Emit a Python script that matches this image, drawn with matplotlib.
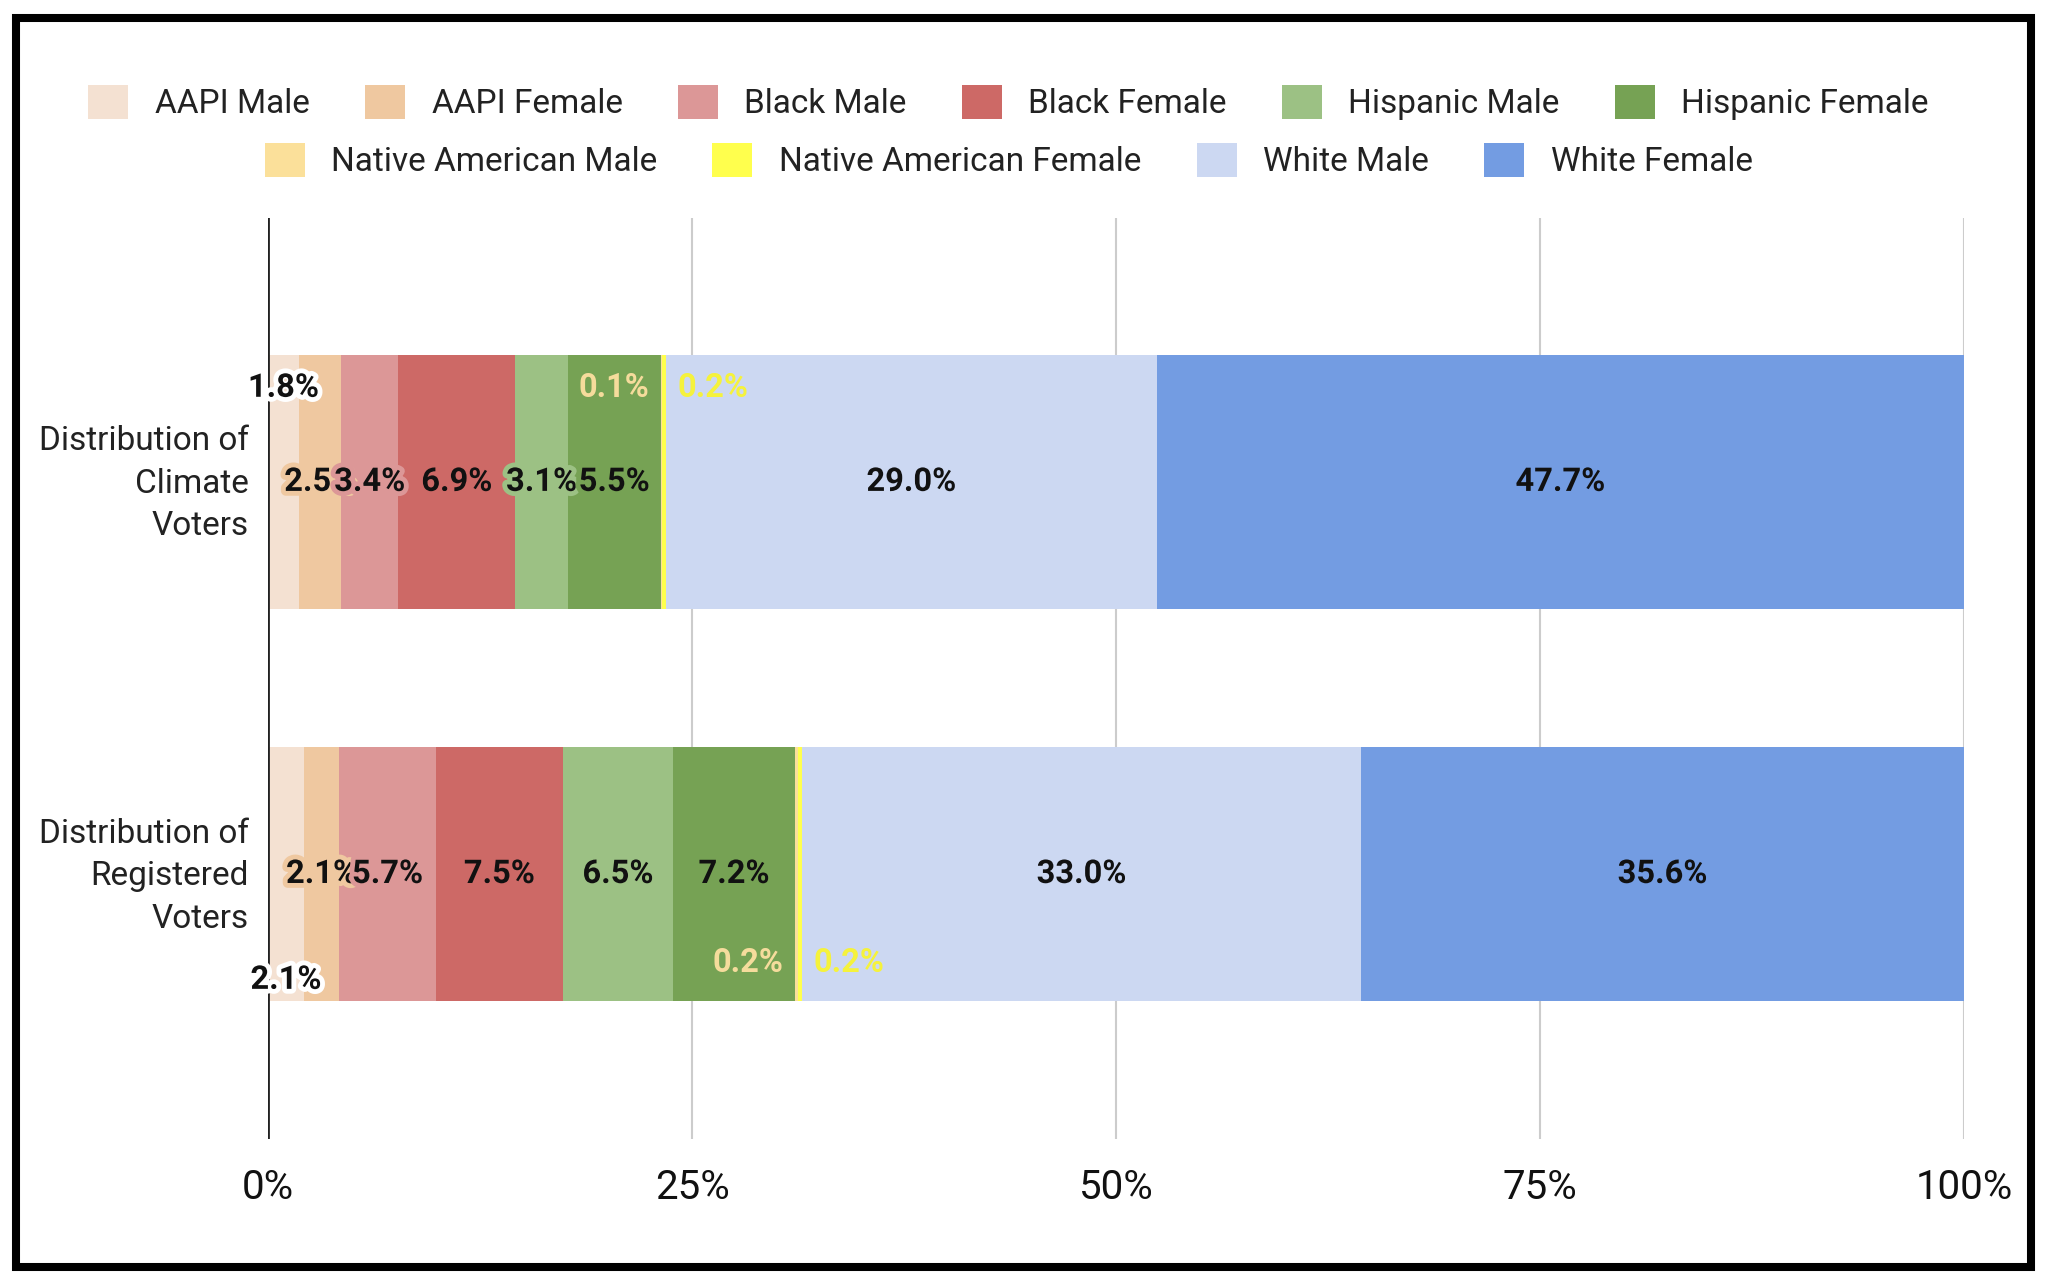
import matplotlib.pyplot as plt
import matplotlib.patheffects as pe
from matplotlib.patches import Patch, Rectangle

plt.rcParams["font.family"] = ["Roboto", "DejaVu Sans"]

# -------------------------
# Data
# -------------------------
groups = ["Distribution of\nClimate\nVoters", "Distribution of\nRegistered\nVoters"]
segments = ["AAPI Male", "AAPI Female", "Black Male", "Black Female",
            "Hispanic Male", "Hispanic Female", "Native American Male",
            "Native American Female", "White Male", "White Female"]
climate = [1.8, 2.5, 3.4, 6.9, 3.1, 5.5, 0.1, 0.2, 29.0, 47.7]
registered = [2.1, 2.1, 5.7, 7.5, 6.5, 7.2, 0.2, 0.2, 33.0, 35.6]
colors = ["#f4e1d2", "#efc8a0", "#dc9797", "#cd6966", "#9cc184",
          "#76a254", "#fbe09a", "#ffff4d", "#ccd8f2", "#739ce2"]
label_colors = {"Native American Male": "#f5dc9c", "Native American Female": "#f5f23c"}
tick_vals = [0, 25, 50, 75, 100]
tick_labels = ["0%", "25%", "50%", "75%", "100%"]

fig = plt.figure(figsize=(20.48, 12.84), dpi=100)
ax = fig.add_axes([0.1309, 0.1129, 0.8281, 0.7173])

bar_h = 0.648
fs = 23.5
for row, vals in enumerate([climate, registered]):
    total = sum(vals)
    left = 0.0
    for i, v in enumerate(vals):
        w = v / total * 100
        ax.barh(row, w, left=left, height=bar_h, color=colors[i], edgecolor="none", zorder=2)
        name = segments[i]
        txt = f"{v:.1f}%"
        mid = left + w / 2
        if name == "AAPI Male":
            # small first segment: label sits inside the bar edge with a white halo
            dy = -0.24 if row == 0 else 0.27
            ax.text(mid, row + dy, txt, ha="center", va="center", fontsize=fs,
                    fontweight="bold", color="#111111", zorder=5,
                    path_effects=[pe.withStroke(linewidth=7, foreground="white")])
        elif name.startswith("Native"):
            # tiny segments: labels beside the sliver
            dy = -0.24 if row == 0 else 0.227
            if name.endswith("Male"):
                ax.text(left - 0.7, row + dy, txt, ha="right", va="center", fontsize=fs,
                        fontweight="bold", color=label_colors[name], zorder=5)
            else:
                ax.text(left + w + 0.7, row + dy, txt, ha="left", va="center", fontsize=fs,
                        fontweight="bold", color=label_colors[name], zorder=5)
        else:
            ax.text(mid, row, txt, ha="center", va="center", fontsize=fs,
                    fontweight="bold", color="#111111", zorder=4,
                    path_effects=[pe.withStroke(linewidth=7, foreground=colors[i])])
        left += w

ax.set_xlim(0, 100)
ax.set_ylim(1.676, -0.673)
ax.set_xticks(tick_vals)
ax.set_xticklabels(tick_labels, fontsize=29, color="#111111")
# category labels nudged a little above the bar centre, as in the original
ax.set_yticks([r - 0.017 for r in range(len(groups))])
ax.set_yticklabels(groups, fontsize=24, color="#222222", linespacing=1.42, ha="right")
ax.tick_params(axis="x", length=0, pad=21)
ax.tick_params(axis="y", length=0, pad=14)
ax.grid(axis="x", color="#cccccc", linewidth=1.5, zorder=0)
ax.set_axisbelow(True)
ax.axvline(0, color="#222222", linewidth=2, zorder=3)
for s in ax.spines.values():
    s.set_visible(False)

handles = [Patch(facecolor=c, edgecolor="none") for c in colors]
leg_kw = dict(loc="center", frameon=False, fontsize=24, handlelength=1.2,
              handleheight=1.2, handletextpad=0.8, columnspacing=1.65,
              labelcolor="#222222")
fig.legend(handles[:6], segments[:6], bbox_to_anchor=(0.4925, 0.92), ncol=6, **leg_kw)
fig.legend(handles[6:], segments[6:], bbox_to_anchor=(0.4925, 0.875), ncol=4, **leg_kw)

# black frame around the whole picture
fig.patches.append(Rectangle((16 / 2048, 1 - 1267 / 1284), 2015 / 2048, 1249 / 1284,
                             transform=fig.transFigure, fill=False,
                             edgecolor="black", linewidth=5.8))

fig.savefig("out.png", dpi=100)
plt.close()
